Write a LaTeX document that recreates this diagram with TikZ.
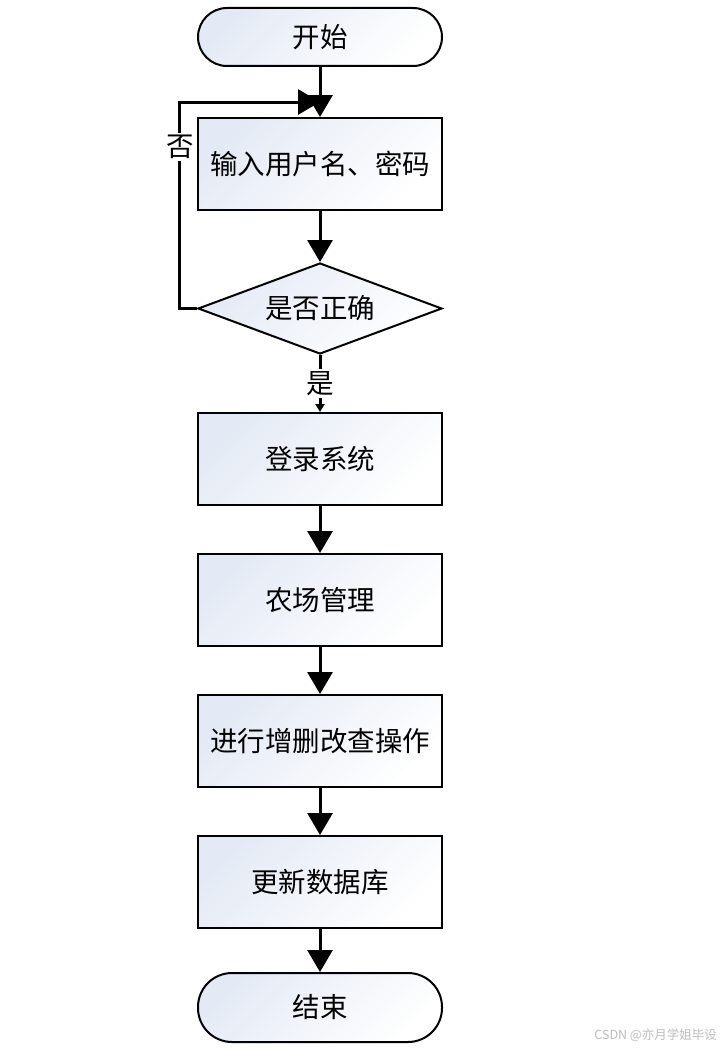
\documentclass[tikz,border=0pt]{standalone}
\usepackage{fontspec}
\setmainfont{Noto Sans CJK SC}
\usetikzlibrary{arrows.meta,shapes.geometric}
\definecolor{fillc}{HTML}{E4EAF5}
\definecolor{fillm}{HTML}{F6F8FC}
\definecolor{wmark}{HTML}{BDBDBD}
\begin{document}
\begin{tikzpicture}[x=1pt,y=-1pt,
  base/.style={draw=black, line width=2pt, top color=fillc, middle color=fillm, bottom color=white, shading angle=45,
    font=\fontsize{27.5}{30}\selectfont, text=black, inner sep=0pt},
  term/.style={base, rectangle, rounded corners=29pt, minimum width=244pt, minimum height=58pt},
  termb/.style={base, rectangle, rounded corners=34pt, minimum width=244pt, minimum height=69pt},
  procbox/.style={base, rectangle, minimum width=244pt, minimum height=92pt},
  decide/.style={base, diamond, minimum width=244pt, minimum height=91pt, aspect=2.6},
  conn/.style={line width=3pt, line join=miter, -{Triangle[width=25pt,length=22pt]}},
  smallconn/.style={line width=3pt, -{Triangle[width=9pt,length=8pt]}},
  lbl/.style={font=\fontsize{27.5}{30}\selectfont, fill=white, inner sep=2pt, text=black}
]
\useasboundingbox (0,0) rectangle (727,1049);
\fill[white] (0,0) rectangle (727,1049);

\node[term]    (s)  at (320,37)    {开始};
\node[procbox] (b1) at (320,164)   {输入用户名、密码};
\node[decide]  (d)  at (320,308.5) {是否正确};
\node[procbox] (b2) at (320,459)   {登录系统};
\node[procbox] (b3) at (320,600)   {农场管理};
\node[procbox] (b4) at (320,741)   {进行增删改查操作};
\node[procbox] (b5) at (320,882)   {更新数据库};
\node[termb]   (e)  at (320,1007.5) {结束};

\coordinate (lp) at (320,102);
\coordinate (lc) at (179,308.5);

\draw[conn] (s) -- (b1);
\draw[conn] (b1) -- (d);
\draw[conn] (d.west) -- (lc) |- (lp);
\node[lbl] (no) at (180,147) {否};
\draw[smallconn] (d.south) -- node[lbl] (yes) {是} (b2.north);
\draw[conn] (b2) -- (b3);
\draw[conn] (b3) -- (b4);
\draw[conn] (b4) -- (b5);
\draw[conn] (b5) -- (e);

\node[anchor=east, text=wmark, font=\fontsize{12.5}{14}\selectfont, inner sep=0pt] (wm) at (717,1035) {CSDN @亦月学姐毕设};
\end{tikzpicture}
\end{document}
